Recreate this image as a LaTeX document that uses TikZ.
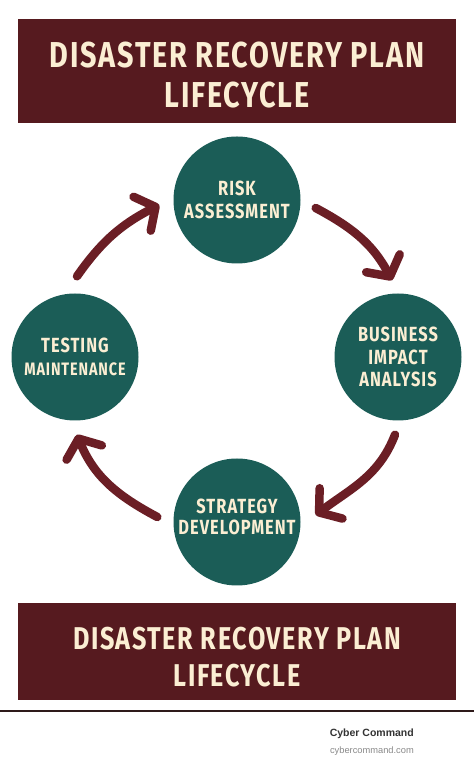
\documentclass[tikz,border=0pt]{standalone}
\usepackage{fontspec}
\setmainfont{Liberation Sans}
\newfontfamily\headfont{Fira Sans}[FakeStretch=0.8, LetterSpace=5]
\usetikzlibrary{arrows.meta,calc}
\definecolor{bannerc}{HTML}{561A1F}
\definecolor{arrowc}{HTML}{6B1E25}
\definecolor{tealc}{HTML}{1B5D57}
\definecolor{creamc}{HTML}{FBEED3}
\definecolor{brandc}{HTML}{333333}
\definecolor{urlc}{HTML}{8A8A8A}
\definecolor{rulec}{HTML}{2E1A1A}
\tikzset{
  banner/.style={fill=bannerc, minimum width=438pt, inner sep=0pt},
  title/.style={text=creamc, align=center, inner sep=0pt},
  stage/.style={circle, fill=tealc, minimum size=127pt, inner sep=0pt, align=center,
    text=creamc, font=\headfont\bfseries\fontsize{20.5}{22.5}\selectfont},
  cyc/.style={draw=arrowc, line width=8.5pt, line cap=round, line join=round,
    -{Straight Barb[length=15pt, width=38pt, line cap=round, line join=round]}},
  footrule/.style={draw=rulec, line width=1.8pt}
}
\begin{document}
\begin{tikzpicture}[x=1pt,y=1pt]
\useasboundingbox (0,0) rectangle (474,771);
\fill[white] (0,0) rectangle (474,771);
% top banner
\node[banner, minimum height=104pt] (topban) at (237,700) {};
\node[title, font=\headfont\bfseries\fontsize{36}{40}\selectfont] (toptitle) at (237,696) {DISASTER RECOVERY PLAN\\LIFECYCLE};
% stages
\node[stage] (risk) at (237,571) {RISK\\ASSESSMENT};
\node[stage] (bus) at (398,414) {BUSINESS\\IMPACT\\ANALYSIS};
\node[stage, text depth=11pt, font=\headfont\bfseries\fontsize{20.5}{21}\selectfont] (strat) at (237,249) {STRATEGY\\DEVELOPMENT};
\node[stage] (test) at (75,414) {TESTING\\\fontsize{18}{21}\selectfont MAINTENANCE};
% cycle arrows
\draw[cyc] ($(test.north)+(2,17)$) to[out=55,in=207] ($(risk.west)+(-14,-5)$);
\draw[cyc] ($(risk.east)+(15,-8)$) to[out=-28,in=118] ($(bus.north)+(-6,13)$);
\draw[cyc] ($(bus.south)+(-3,-14)$) to[out=249,in=37] ($(strat.east)+(15,7)$);
\draw[cyc] ($(strat.west)+(-16,5)$) to[out=152,in=-68] ($(test.south)+(2,-14)$);
% bottom banner
\node[banner, minimum height=97pt] (botban) at (237,119.5) {};
\node[title, font=\headfont\bfseries\fontsize{31.5}{37}\selectfont] (bottitle) at (237,113.5) {DISASTER RECOVERY PLAN\\LIFECYCLE};
% footer
\coordinate (fl) at (0,60);
\coordinate (fr) at (474,60);
\draw[footrule] (fl) -- (fr);
\node[anchor=base east, inner sep=0pt, text=brandc, font=\bfseries\fontsize{10.5}{12}\selectfont] (brand) at (414,34) {Cyber Command};
\node[anchor=base east, inner sep=0pt, text=urlc, font=\fontsize{9.3}{11}\selectfont] (url) at (414,17) {cybercommand.com};
\end{tikzpicture}
\end{document}
